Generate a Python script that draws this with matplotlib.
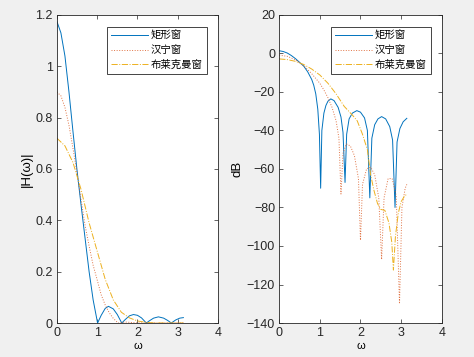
import matplotlib
matplotlib.use('Agg')
import matplotlib.pyplot as plt

plt.rcParams['font.family'] = ['Liberation Sans', 'Noto Sans CJK SC', 'DejaVu Sans']

labels = ['矩形窗', '汉宁窗', '布莱克曼窗']

# |H(w)|
w_rect = [0, 0.1, 0.2, 0.3, 0.4, 0.5, 0.6, 0.7, 0.8, 0.9, 1.01, 1.1, 1.2, 1.28, 1.4, 1.5, 1.61,
          1.7, 1.8, 1.9, 2.0, 2.1, 2.22, 2.3, 2.4, 2.52, 2.65, 2.75, 2.84, 2.95, 3.05, 3.14]
h_rect = [1.175, 1.13, 1.04, 0.9, 0.745, 0.595, 0.46, 0.33, 0.2, 0.09, 0.0, 0.03, 0.057, 0.065, 0.055,
          0.033, 0.0, 0.014, 0.028, 0.033, 0.03, 0.02, 0.0, 0.009, 0.019, 0.024, 0.019, 0.01, 0.0,
          0.012, 0.019, 0.021]
w_hann = [0, 0.1, 0.2, 0.3, 0.4, 0.5, 0.6, 0.7, 0.8, 0.9, 1.0, 1.1, 1.2, 1.3, 1.4, 1.52, 1.7, 2.0,
          2.3, 2.52, 2.8, 3.14]
h_hann = [0.9, 0.885, 0.84, 0.77, 0.68, 0.585, 0.48, 0.38, 0.3, 0.225, 0.168, 0.11, 0.07, 0.04,
          0.018, 0.0, 0.004, 0.0, 0.001, 0.0, 0.0005, 0.0004]
w_black = [0, 0.2, 0.4, 0.6, 0.8, 1.0, 1.2, 1.4, 1.6, 1.8, 2.0, 2.2, 2.4, 2.6, 2.8, 3.14]
h_black = [0.72, 0.69, 0.625, 0.52, 0.39, 0.28, 0.17, 0.09, 0.042, 0.02, 0.008, 0.003, 0.0003,
           0.0001, 0.0, 0.0002]

# dB curves
w_rect_db = [0, 0.1, 0.2, 0.3, 0.4, 0.5, 0.6, 0.7, 0.8, 0.85, 0.9, 0.95, 0.99, 1.02, 1.05, 1.1,
             1.15, 1.2, 1.27, 1.35, 1.45, 1.52, 1.57, 1.62, 1.66, 1.72, 1.8, 1.91, 2.0, 2.1, 2.17,
             2.23, 2.28, 2.35, 2.43, 2.52, 2.62, 2.72, 2.79, 2.85, 2.9, 2.97, 3.05, 3.14]
db_rect = [1.4, 1.0, 0.2, -1.1, -2.7, -4.6, -6.5, -9.5, -13.5, -16.5, -21, -29, -42, -70, -40, -31,
           -27, -24.8, -23.6, -24.5, -28, -33, -41, -67, -42, -34, -31, -29.7, -30.5, -33.5, -40,
           -75, -44, -37, -34, -32.8, -34, -38, -45, -80, -46, -39, -35.5, -33.7]
w_hann_db = [0, 0.2, 0.4, 0.6, 0.8, 1.0, 1.1, 1.2, 1.3, 1.4, 1.47, 1.52, 1.57, 1.65, 1.75, 1.85,
             1.95, 2.0, 2.05, 2.15, 2.25, 2.35, 2.45, 2.52, 2.58, 2.68, 2.78, 2.88, 2.96, 3.02,
             3.1, 3.14]
db_hann = [-0.9, -1.5, -3.3, -6.3, -10.5, -15.5, -19, -23, -28, -35, -44, -73, -52, -47, -48, -53,
           -65, -97, -68, -60, -59, -63, -75, -107, -75, -65, -65, -74, -130, -80, -70, -68]
w_black_db = [0, 0.2, 0.4, 0.6, 0.8, 1.0, 1.2, 1.4, 1.6, 1.8, 1.92, 2.05, 2.17, 2.25, 2.33, 2.42,
              2.5, 2.6, 2.7, 2.77, 2.81, 2.86, 2.93, 3.0, 3.07, 3.14]
db_black = [-2.85, -3.2, -4.1, -5.7, -8.1, -11.2, -15.5, -21, -27.5, -32, -35, -42, -50, -63, -71,
            -78, -81, -81.5, -88, -98, -112.5, -95, -83, -77, -74.5, -73]

c_rect = '#0072BD'
c_hann = '#D95319'
c_black = '#EDB120'

fig = plt.figure(figsize=(4.74, 3.57), dpi=100, facecolor='#f0f0f0')
ax1 = fig.add_axes([0.120, 0.0952, 0.340, 0.863])
ax2 = fig.add_axes([0.589, 0.0952, 0.343, 0.863])

ax1.plot(w_rect, h_rect, '-', color=c_rect, lw=0.7, label=labels[0])
ax1.plot(w_hann, h_hann, ':', color=c_hann, lw=0.7, alpha=0.8, label=labels[1])
ax1.plot(w_black, h_black, '-.', color=c_black, lw=0.7, label=labels[2])
ax1.set_xlim(0, 4)
ax1.set_ylim(0, 1.2)
ax1.set_yticks([0, 0.2, 0.4, 0.6, 0.8, 1.0, 1.2])
ax1.set_yticklabels(['0', '0.2', '0.4', '0.6', '0.8', '1', '1.2'])
ax1.set_ylabel('|H(ω)|', fontsize=9.5, labelpad=2)

ax2.plot(w_rect_db, db_rect, '-', color=c_rect, lw=0.7, label=labels[0])
ax2.plot(w_hann_db, db_hann, ':', color=c_hann, lw=0.7, alpha=0.8, label=labels[1])
ax2.plot(w_black_db, db_black, '-.', color=c_black, lw=0.7, label=labels[2])
ax2.set_xlim(0, 4)
ax2.set_ylim(-140, 20)
ax2.set_yticks(range(-140, 21, 20))
ax2.set_ylabel('dB', fontsize=9.5, labelpad=2)

for ax in (ax1, ax2):
    ax.set_xticks([0, 1, 2, 3, 4])
    ax.set_xlabel('ω', fontsize=8, labelpad=1)
    ax.tick_params(direction='in', top=True, right=True, labelsize=9, length=3,
                   width=0.5, color='#262626', labelcolor='#262626', pad=3)
    for s in ax.spines.values():
        s.set_linewidth(0.6)
        s.set_color('#262626')
    leg = ax.legend(loc='upper right', bbox_to_anchor=(0.932, 0.961), borderaxespad=0,
                    prop={'family': ['Noto Sans CJK SC'], 'size': 7.5}, fancybox=False,
                    handlelength=3.5, handletextpad=0.3, labelspacing=0.4, borderpad=0.4,
                    framealpha=1)
    leg.get_frame().set_edgecolor('#262626')
    leg.get_frame().set_linewidth(0.6)

fig.savefig('out.png', dpi=100, facecolor=fig.get_facecolor())
